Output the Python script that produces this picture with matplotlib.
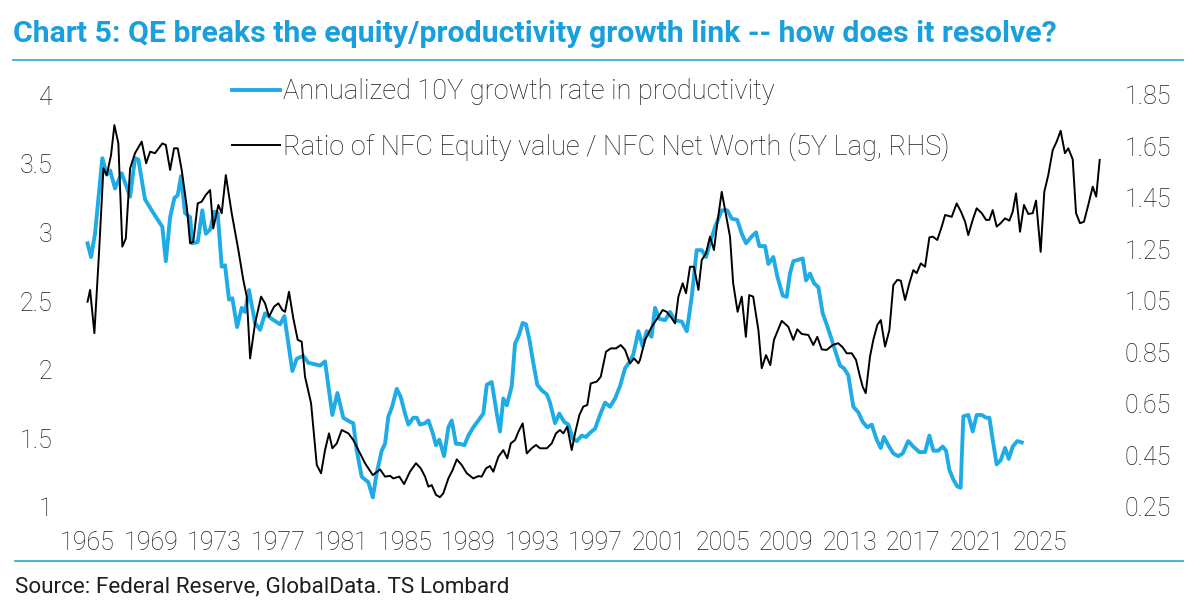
import matplotlib
matplotlib.use("Agg")
import matplotlib.pyplot as plt
from matplotlib.lines import Line2D

plt.rcParams['font.family'] = ['Roboto', 'DejaVu Sans']

# ---------------- data ----------------
prod_years = [1965.00, 1965.22, 1965.47, 1965.93, 1966.21, 1966.42, 1966.73, 1967.15, 1967.68, 1967.99,
              1968.20, 1968.62, 1969.04, 1969.71, 1969.93, 1970.20, 1970.47, 1970.68, 1970.89, 1971.14,
              1971.46, 1971.60, 1971.94, 1972.23, 1972.45, 1972.72, 1972.99, 1973.20, 1973.45, 1973.66,
              1973.91, 1974.12, 1974.42, 1974.71, 1974.92, 1975.17, 1975.55, 1975.87, 1976.18, 1976.60,
              1977.13, 1977.40, 1977.90, 1978.18, 1978.59, 1978.91, 1979.65, 1979.96, 1980.42, 1980.74,
              1981.11, 1981.54, 1981.74, 1981.96, 1982.27, 1982.69, 1982.97, 1983.22, 1983.53, 1983.74,
              1983.95, 1984.16, 1984.48, 1984.73, 1985.00, 1985.21, 1985.52, 1985.74, 1985.94, 1986.26,
              1986.47, 1986.74, 1986.95, 1987.16, 1987.46, 1987.73, 1987.94, 1988.21, 1988.46, 1988.74,
              1988.99, 1989.30, 1989.62, 1989.93, 1990.15, 1990.46, 1990.78, 1990.98, 1991.19, 1991.41,
              1991.72, 1991.93, 1992.14, 1992.41, 1992.62, 1992.83, 1993.08, 1993.33, 1993.61, 1993.93,
              1994.13, 1994.45, 1994.72, 1995.02, 1995.29, 1995.56, 1995.82, 1996.13, 1996.40, 1996.65,
              1996.97, 1997.28, 1997.60, 1997.91, 1998.23, 1998.54, 1998.86, 1999.17, 1999.38, 1999.70,
              1999.97, 2000.22, 2000.53, 2000.75, 2001.02, 2001.38, 2001.69, 2002.01, 2002.43, 2002.75,
              2003.06, 2003.37, 2003.69, 2003.96, 2004.26, 2004.53, 2004.95, 2005.30, 2005.58, 2005.93,
              2006.21, 2006.48, 2006.84, 2007.11, 2007.32, 2007.68, 2007.89, 2008.20, 2008.45, 2008.79,
              2009.04, 2009.25, 2009.46, 2009.77, 2010.05, 2010.26, 2010.51, 2010.76, 2011.04, 2011.31,
              2011.56, 2011.82, 2012.09, 2012.40, 2012.65, 2012.92, 2013.24, 2013.55, 2013.83, 2014.12,
              2014.40, 2014.71, 2014.97, 2015.17, 2015.44, 2015.76, 2016.07, 2016.35, 2016.70, 2017.01,
              2017.40, 2017.76, 2018.03, 2018.28, 2018.59, 2018.87, 2019.08, 2019.29, 2019.54, 2019.79,
              2020.00, 2020.17, 2020.48, 2020.76, 2021.01, 2021.33, 2021.60, 2021.81, 2022.06, 2022.27,
              2022.52, 2022.80, 2023.03, 2023.28, 2023.57, 2023.85]
prod_growth = [2.92, 2.82, 2.99, 3.54, 3.42, 3.45, 3.32, 3.43, 3.26, 3.54,
               3.53, 3.24, 3.16, 3.04, 2.79, 3.11, 3.25, 3.27, 3.41, 3.14,
               3.11, 2.92, 2.93, 3.16, 2.99, 3.02, 3.15, 3.14, 2.75, 2.76,
               2.51, 2.52, 2.31, 2.45, 2.42, 2.58, 2.34, 2.29, 2.41, 2.37,
               2.33, 2.39, 1.99, 2.08, 2.10, 2.05, 2.03, 2.06, 1.67, 1.83,
               1.65, 1.62, 1.61, 1.41, 1.22, 1.18, 1.07, 1.25, 1.41, 1.46,
               1.66, 1.72, 1.86, 1.80, 1.68, 1.60, 1.65, 1.65, 1.60, 1.61,
               1.63, 1.54, 1.45, 1.49, 1.37, 1.58, 1.63, 1.46, 1.46, 1.45,
               1.52, 1.58, 1.63, 1.68, 1.89, 1.91, 1.68, 1.55, 1.79, 1.74,
               1.88, 2.19, 2.24, 2.34, 2.33, 2.22, 2.05, 1.89, 1.85, 1.82,
               1.76, 1.61, 1.68, 1.62, 1.60, 1.50, 1.48, 1.52, 1.51, 1.54,
               1.57, 1.67, 1.76, 1.73, 1.79, 1.88, 2.01, 2.06, 2.11, 2.28,
               2.17, 2.28, 2.24, 2.45, 2.37, 2.36, 2.42, 2.36, 2.35, 2.28,
               2.53, 2.87, 2.87, 2.82, 2.94, 3.04, 3.16, 3.16, 3.10, 3.09,
               2.99, 2.92, 2.97, 3.00, 2.90, 2.90, 2.77, 2.82, 2.68, 2.54,
               2.53, 2.70, 2.79, 2.80, 2.81, 2.65, 2.70, 2.63, 2.60, 2.41,
               2.33, 2.24, 2.14, 2.03, 2.01, 1.96, 1.73, 1.69, 1.62, 1.58,
               1.60, 1.49, 1.43, 1.51, 1.45, 1.39, 1.37, 1.39, 1.48, 1.44,
               1.40, 1.40, 1.52, 1.41, 1.41, 1.44, 1.41, 1.27, 1.20, 1.15,
               1.14, 1.66, 1.67, 1.55, 1.67, 1.67, 1.65, 1.65, 1.46, 1.31,
               1.34, 1.43, 1.35, 1.44, 1.48, 1.47]

eq_years = [1965.00, 1965.16, 1965.43, 1965.72, 1966.00, 1966.21, 1966.48, 1966.69, 1966.94, 1967.19,
            1967.41, 1967.68, 1967.99, 1968.41, 1968.69, 1968.94, 1969.25, 1969.71, 1969.93, 1970.20,
            1970.45, 1970.68, 1970.93, 1971.25, 1971.46, 1971.66, 1971.94, 1972.19, 1972.45, 1972.72,
            1972.92, 1973.24, 1973.45, 1973.71, 1974.08, 1974.50, 1974.81, 1975.03, 1975.24, 1975.55,
            1975.93, 1976.18, 1976.43, 1976.75, 1977.02, 1977.27, 1977.44, 1977.69, 1977.96, 1978.24,
            1978.49, 1978.70, 1979.08, 1979.44, 1979.71, 1979.96, 1980.21, 1980.42, 1980.70, 1981.01,
            1981.43, 1981.74, 1982.06, 1982.48, 1982.97, 1983.43, 1983.74, 1984.06, 1984.26, 1984.64,
            1984.94, 1985.31, 1985.69, 1985.99, 1986.26, 1986.47, 1986.68, 1986.95, 1987.20, 1987.41,
            1987.73, 1988.00, 1988.26, 1988.57, 1988.89, 1989.30, 1989.62, 1989.83, 1990.10, 1990.35,
            1990.56, 1990.88, 1991.19, 1991.44, 1991.66, 1991.93, 1992.14, 1992.41, 1992.67, 1992.98,
            1993.25, 1993.50, 1993.93, 1994.24, 1994.51, 1994.76, 1994.97, 1995.22, 1995.50, 1995.71,
            1995.98, 1996.23, 1996.48, 1996.70, 1997.08, 1997.33, 1997.66, 1997.96, 1998.29, 1998.59,
            1998.86, 1999.17, 1999.43, 1999.70, 1999.80, 2000.12, 2000.54, 2000.96, 2001.23, 2001.48,
            2001.80, 2002.01, 2002.22, 2002.49, 2002.70, 2002.95, 2003.20, 2003.48, 2003.69, 2003.96,
            2004.21, 2004.46, 2004.67, 2004.95, 2005.22, 2005.47, 2005.67, 2005.95, 2006.21, 2006.47,
            2006.68, 2006.93, 2007.26, 2007.47, 2007.74, 2008.01, 2008.24, 2008.73, 2009.14, 2009.46,
            2009.71, 2009.99, 2010.41, 2010.72, 2010.97, 2011.25, 2011.56, 2011.94, 2012.29, 2012.57,
            2012.82, 2013.14, 2013.41, 2013.66, 2013.83, 2014.02, 2014.29, 2014.50, 2014.75, 2014.97,
            2015.24, 2015.51, 2015.76, 2016.01, 2016.23, 2016.50, 2016.77, 2017.02, 2017.23, 2017.49,
            2017.76, 2018.03, 2018.24, 2018.53, 2018.81, 2019.02, 2019.44, 2019.75, 2020.02, 2020.28,
            2020.48, 2020.76, 2021.01, 2021.33, 2021.60, 2021.81, 2022.02, 2022.27, 2022.52, 2022.80,
            2023.07, 2023.28, 2023.49, 2023.74, 2023.99, 2024.26, 2024.54, 2024.75, 2025.04, 2025.27,
            2025.52, 2025.80, 2026.05, 2026.30, 2026.57, 2026.78, 2027.06, 2027.27, 2027.52, 2027.77,
            2028.04, 2028.32, 2028.54, 2028.76]
eq_ratio = [1.047, 1.093, 0.925, 1.235, 1.565, 1.539, 1.617, 1.733, 1.662, 1.261,
            1.293, 1.565, 1.624, 1.669, 1.585, 1.630, 1.624, 1.662, 1.656, 1.559,
            1.643, 1.643, 1.559, 1.416, 1.274, 1.280, 1.429, 1.436, 1.462, 1.481,
            1.332, 1.423, 1.391, 1.539, 1.391, 1.248, 1.132, 1.067, 0.827, 0.963,
            1.067, 1.041, 0.989, 1.028, 1.041, 1.015, 1.008, 1.086, 0.983, 0.899,
            0.892, 0.756, 0.653, 0.413, 0.381, 0.471, 0.536, 0.478, 0.497, 0.549,
            0.536, 0.510, 0.471, 0.420, 0.374, 0.396, 0.368, 0.371, 0.361, 0.368,
            0.339, 0.387, 0.420, 0.400, 0.368, 0.329, 0.335, 0.297, 0.288, 0.303,
            0.361, 0.394, 0.435, 0.413, 0.381, 0.361, 0.370, 0.368, 0.400, 0.409,
            0.387, 0.445, 0.471, 0.439, 0.497, 0.510, 0.542, 0.575, 0.458, 0.478,
            0.491, 0.478, 0.478, 0.497, 0.536, 0.549, 0.536, 0.562, 0.471, 0.536,
            0.607, 0.640, 0.646, 0.730, 0.737, 0.756, 0.853, 0.866, 0.866, 0.879,
            0.860, 0.808, 0.827, 0.808, 0.821, 0.899, 0.950, 0.989, 1.015, 1.008,
            0.983, 0.963, 1.067, 1.119, 1.080, 1.183, 1.183, 1.093, 1.209, 1.235,
            1.300, 1.248, 1.352, 1.474, 1.384, 1.300, 1.119, 1.008, 1.067, 0.911,
            1.073, 1.067, 0.937, 0.789, 0.840, 0.801, 0.899, 0.973, 0.950, 0.899,
            0.940, 0.922, 0.918, 0.879, 0.911, 0.862, 0.860, 0.879, 0.886, 0.870,
            0.847, 0.847, 0.821, 0.756, 0.717, 0.692, 0.834, 0.899, 0.957, 0.976,
            0.873, 0.937, 1.112, 1.132, 1.129, 1.054, 1.119, 1.170, 1.158, 1.196,
            1.183, 1.297, 1.300, 1.287, 1.339, 1.384, 1.377, 1.429, 1.397, 1.358,
            1.306, 1.365, 1.410, 1.391, 1.365, 1.365, 1.403, 1.339, 1.352, 1.371,
            1.362, 1.397, 1.468, 1.319, 1.423, 1.388, 1.391, 1.440, 1.241, 1.474,
            1.539, 1.636, 1.669, 1.711, 1.624, 1.643, 1.600, 1.391, 1.352, 1.358,
            1.423, 1.494, 1.455, 1.598]

x_ticks = [1965, 1969, 1973, 1977, 1981, 1985, 1989, 1993, 1997, 2001, 2005, 2009, 2013, 2017, 2021, 2025]
left_ticks = [1, 1.5, 2, 2.5, 3, 3.5, 4]
left_labels = ['1', '1.5', '2', '2.5', '3', '3.5', '4']
right_ticks = [0.25, 0.45, 0.65, 0.85, 1.05, 1.25, 1.45, 1.65, 1.85]
right_labels = ['0.25', '0.45', '0.65', '0.85', '1.05', '1.25', '1.45', '1.65', '1.85']

title = "Chart 5: QE breaks the equity/productivity growth link -- how does it resolve?"
label_prod = "Annualized 10Y growth rate in productivity"
label_eq = "Ratio of NFC Equity value / NFC Net Worth (5Y Lag, RHS)"
source = "Source: Federal Reserve, GlobalData. TS Lombard"

# ---------------- styling ----------------
BLUE = '#1EABE6'
TITLE_BLUE = '#1A9FDD'
RULE_BLUE = '#3AAED8'
TXT = '#1E1E1E'
LW = 'light'

W, H = 1200, 600
fig = plt.figure(figsize=(12, 6), dpi=100)
fig.patch.set_facecolor('white')

L, R, B, T = 62, 1117, 507, 95
ax = fig.add_axes([L / W, (H - B) / H, (R - L) / W, (B - T) / H])
ax2 = ax.twinx()

ax.plot(prod_years, prod_growth, color=BLUE, lw=2.8, solid_joinstyle='round', zorder=2)
ax2.plot(eq_years, eq_ratio, color='black', lw=1.4, solid_joinstyle='round', zorder=3)

ax.set_xlim(1963.39, 2029.85)
ax.set_ylim(1, 4)
ax2.set_ylim(0.25, 1.85)

ax.set_xticks(x_ticks)
ax.set_xticklabels([str(y) for y in x_ticks], fontsize=18, color=TXT, fontweight=LW)
ax.set_yticks(left_ticks)
ax.set_yticklabels(left_labels, fontsize=18, color=TXT, fontweight=LW)
ax2.set_yticks(right_ticks)
ax2.set_yticklabels(right_labels, fontsize=18, color=TXT, fontweight=LW)

ax.tick_params(axis='x', length=0, pad=17)
ax.tick_params(axis='y', length=0, pad=7)
ax2.tick_params(axis='y', length=0, pad=5.5)
for a in (ax, ax2):
    for s in a.spines.values():
        s.set_visible(False)
    a.patch.set_visible(False)

# legend
handles = [Line2D([], [], color=BLUE, lw=2.8), Line2D([], [], color='black', lw=1.4)]
fig.legend(handles, [label_prod, label_eq], loc='upper left',
           bbox_to_anchor=(232 / W, 1 - 78 / H), frameon=False,
           prop={'size': 19.5, 'weight': LW},
           handlelength=1.78, handletextpad=0.1, labelspacing=1.0,
           labelcolor=TXT, borderpad=0, borderaxespad=0)

# title, rules and source
fig.text(13 / W, 1 - 34 / H, title, fontsize=21.8, fontweight='bold', color=TITLE_BLUE,
         ha='left', va='center')
fig.add_artist(Line2D([13 / W, 1183 / W], [1 - 60 / H, 1 - 60 / H], color=RULE_BLUE, lw=1.3))
fig.add_artist(Line2D([15 / W, 1183 / W], [1 - 561 / H, 1 - 561 / H], color=RULE_BLUE, lw=1.3))
fig.text(15 / W, 1 - 587 / H, source, fontsize=16.2, color=TXT, ha='left', va='center')

fig.savefig('out.png', dpi=100, facecolor='white')
